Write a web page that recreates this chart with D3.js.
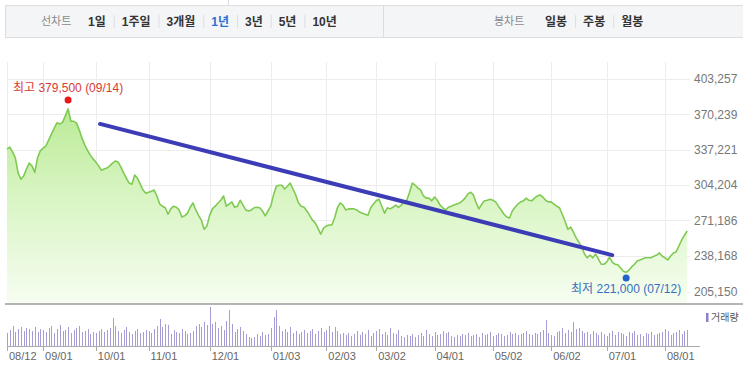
<!DOCTYPE html>
<html>
<head>
<meta charset="utf-8">
<script src="https://cdn.jsdelivr.net/npm/d3@7"></script>
<style>
  body { margin: 0; background: #fff; }
  svg { display: block; font-family: "Liberation Sans", Arial, "Noto Sans CJK KR", sans-serif; }
</style>
</head>
<body>
<svg id="chart"></svg>
<script>
// ---- data (one point per trading day, 2021-08-12 .. 2022-08-11) ----
const tickIdx = [0, 13, 32, 51, 73, 95, 115, 133, 154, 175, 196, 216, 237];
const tickLabels = ["08/12", "09/01", "10/01", "11/01", "12/01", "01/03", "02/03", "03/02", "04/01", "05/02", "06/02", "07/01", "08/01"];
const yTicks = [205150, 238168, 271186, 304204, 337221, 370239, 403257];

const closes = [
  337500, 339500, 335000, 329500, 315500, 309500, 312500, 319000, 324500, 322000,
  316000, 329500, 336000, 338500, 340500, 346000, 351500, 357000, 362000, 361000,
  362500, 368500, 375000, 363500, 363500, 362000, 355500, 348000, 341500, 336500,
  332000, 328500, 325500, 322000, 318000, 319000, 320000, 322000, 324500, 326500,
  325500, 321000, 315500, 310500, 306000, 305000, 313500, 310500, 305000, 299500,
  296500, 297500, 298500, 299500, 294000, 286500, 284500, 283000, 277000, 282000,
  284500, 283500, 281000, 274500, 275500, 278000, 283500, 287500, 281000, 276000,
  271500, 263000, 266000, 276000, 282000, 284500, 287500, 290000, 294000, 284500,
  286500, 288500, 283500, 284500, 290000, 285500, 281000, 280000, 281000, 283000,
  283500, 283000, 280000, 275500, 280000, 284500, 295000, 303000, 304000, 304000,
  300500, 303000, 306000, 300500, 295000, 287500, 284500, 283500, 280000, 276000,
  271500, 269000, 264000, 258500, 264000, 266000, 267000, 267000, 273500, 283000,
  287500, 285500, 281000, 282000, 282000, 282000, 281000, 279000, 278000, 277000,
  276000, 283000, 286500, 289500, 291000, 284500, 278000, 283000, 282000, 283500,
  285500, 283500, 285500, 288500, 290000, 297500, 306000, 304000, 301500, 299500,
  294000, 292000, 292000, 289500, 293000, 290000, 285500, 283000, 281000, 283500,
  284500, 285500, 286500, 287500, 289500, 292000, 296000, 297500, 295000, 287500,
  282000, 286500, 289500, 290000, 291000, 290000, 288500, 284500, 281000, 277000,
  274500, 273500, 280000, 283500, 286500, 288500, 289500, 292000, 290000, 289500,
  292000, 294000, 295000, 293000, 290000, 288500, 288500, 286500, 284500, 283000,
  277000, 270500, 263000, 265000, 260500, 255000, 251000, 246500, 240000, 236500,
  239000, 236500, 240000, 235500, 230500, 230500, 232500, 237000, 232500, 230500,
  230000, 227000, 224000, 223000, 225000, 228000, 230500, 233500, 234500, 235500,
  236500, 236500, 236500, 238000, 239000, 241000, 238000, 236500, 234500, 238000,
  241000, 242000, 247500, 253000, 257500, 261500
];

// volume, in 10k shares
const volumes = [
  13, 16, 20, 14, 17, 19, 15, 18, 17, 15, 19, 14, 17,
  16, 14, 18, 20, 13, 17, 21, 15, 16, 19, 13, 16, 18, 20, 14, 15, 17, 12, 14,
  13, 15, 17, 14, 16, 18, 28, 20, 15, 13, 16, 19, 14, 12, 15, 17, 13, 14, 16,
  15, 13, 17, 20, 27, 19, 22, 21, 12, 16, 14, 13, 17, 15, 12, 13, 15, 20, 22, 19, 24, 21,
  39, 22, 24, 18, 20, 16, 25, 36, 22, 14, 17, 19, 15, 12, 9, 8, 9, 12, 10, 14, 11, 12,
  18, 29, 36, 20, 15, 17, 14, 19, 13, 15, 12, 14, 16, 13, 15, 17, 12, 15, 18, 14, 16, 20, 14, 19, 15, 12, 13, 11,
  13, 10, 12, 15, 11, 14, 12, 16, 10, 13, 15, 17, 12, 14, 11, 18, 13, 12, 16, 10, 9, 11, 10, 12, 9, 11, 13, 10, 16, 12, 10,
  14, 11, 12, 15, 13, 14, 10, 9, 11, 10, 12, 11, 13, 10, 11, 12, 9, 13, 11, 12, 14, 10,
  11, 13, 12, 10, 11, 14, 12, 13, 11, 12, 13, 15, 12, 11, 13, 12, 14, 16, 26, 13,
  11, 10, 14, 15, 18, 13, 16, 14, 24, 17, 18, 15, 13, 14, 12, 15, 13, 11, 14, 12, 10,
  13, 15, 11, 14, 13, 12, 10, 14, 13, 15, 11, 12, 10, 13, 12, 14, 11, 12, 13, 14, 17, 15, 11, 13, 14, 16, 12, 15, 16
];

// high / low markers
const hiIdx = 22, hiVal = 379500, hiLabel = "최고 379,500 (09/14)";
const loIdx = 223, loVal = 221000, loLabel = "최저 221,000 (07/12)";

// hand-drawn trend line (trading-day index, price)
const trendIdx = [33.5, 218];
const trendVal = [361000, 239000];

// tab bar
const lineTabs = ["1일", "1주일", "3개월", "1년", "3년", "5년", "10년"];
const candleTabs = ["일봉", "주봉", "월봉"];
const activeTab = "1년";

// ---- layout ----
const width = 743;
const height = 374;
const plotLeft = 7, plotRight = 690, plotTop = 62, plotBottom = 303;
const volBase = 346, volTop = 306;

const svg = d3.select("#chart")
  .attr("width", width)
  .attr("height", height);

// Scales
const x = d3.scaleLinear().domain([0, 237]).range([plotLeft, 665]);
const y = d3.scaleLinear().domain([205150, 403257]).range([291.5, 78.5]);
const yVol = d3.scaleLinear().domain([0, 40]).range([volBase, volTop]);

// ---- tab bar ----
svg.append("line")
  .attr("x1", 228.5).attr("x2", 228.5).attr("y1", 0).attr("y2", 5)
  .attr("stroke", "#dcdde0");
svg.append("rect")
  .attr("x", 5.5).attr("y", 5.5)
  .attr("width", width).attr("height", 32)
  .attr("fill", "#f4f5f7")
  .attr("stroke", "#dcdde0");
svg.append("line")
  .attr("x1", 383.5).attr("x2", 383.5).attr("y1", 6).attr("y2", 37)
  .attr("stroke", "#dcdde0");

function tabRow(title, titleX, startX, items) {
  svg.append("text")
    .attr("x", titleX).attr("y", 25)
    .attr("font-size", 11)
    .attr("fill", "#8a8a8a")
    .text(title);
  let cx = startX;
  items.forEach((t, i) => {
    if (i > 0) {
      svg.append("line")
        .attr("x1", cx + 8.5).attr("x2", cx + 8.5)
        .attr("y1", 15).attr("y2", 28)
        .attr("stroke", "#dddee2");
      cx += 16;
    }
    const txt = svg.append("text")
      .attr("x", cx).attr("y", 25.5)
      .attr("font-size", 12)
      .attr("font-weight", "bold")
      .attr("fill", t === activeTab ? "#2d6fd2" : "#333")
      .text(t);
    cx += txt.node().getComputedTextLength();
  });
}
tabRow("선차트", 41, 88, lineTabs);
tabRow("봉차트", 494, 545, candleTabs);

// ---- price chart ----
const grid = svg.append("g").attr("class", "grid");
grid.selectAll(".hgrid")
  .data(yTicks)
  .enter()
  .append("line")
  .attr("x1", plotLeft).attr("x2", plotRight)
  .attr("y1", d => Math.round(y(d)) + 0.5)
  .attr("y2", d => Math.round(y(d)) + 0.5)
  .attr("stroke", "#ececec");
grid.selectAll(".vgrid")
  .data(tickIdx)
  .enter()
  .append("line")
  .attr("x1", d => Math.round(x(d)) + 0.5)
  .attr("x2", d => Math.round(x(d)) + 0.5)
  .attr("y1", plotTop).attr("y2", plotBottom)
  .attr("stroke", "#ececec");

// area gradient
const defs = svg.append("defs");
const grad = defs.append("linearGradient")
  .attr("id", "area-grad")
  .attr("gradientUnits", "userSpaceOnUse")
  .attr("x1", 0).attr("x2", 0)
  .attr("y1", 95).attr("y2", plotBottom);
grad.append("stop").attr("offset", "0%").attr("stop-color", "#b6e98f");
grad.append("stop").attr("offset", "50%").attr("stop-color", "#d9f5c4");
grad.append("stop").attr("offset", "100%").attr("stop-color", "#f6fdf1");

const area = d3.area()
  .x((d, i) => x(i))
  .y0(plotBottom)
  .y1(d => y(d));
svg.append("path")
  .datum(closes)
  .attr("d", area)
  .attr("fill", "url(#area-grad)");

const line = d3.line()
  .x((d, i) => x(i))
  .y(d => y(d));
svg.append("path")
  .datum(closes)
  .attr("d", line)
  .attr("fill", "none")
  .attr("stroke", "#7fca52")
  .attr("stroke-width", 1.6)
  .attr("stroke-linejoin", "round");

// trend line
svg.append("line")
  .attr("x1", x(trendIdx[0])).attr("y1", y(trendVal[0]))
  .attr("x2", x(trendIdx[1])).attr("y2", y(trendVal[1]))
  .attr("stroke", "#3c3db6")
  .attr("stroke-width", 4)
  .attr("stroke-linecap", "round");

// high / low markers
svg.append("circle")
  .attr("cx", x(hiIdx)).attr("cy", y(hiVal) - 4)
  .attr("r", 3.5)
  .attr("fill", "#e8191b");
svg.append("text")
  .attr("x", x(hiIdx)).attr("y", y(hiVal) - 12)
  .attr("text-anchor", "middle")
  .attr("font-size", 12)
  .attr("fill", "#d93a32")
  .text(hiLabel);

svg.append("circle")
  .attr("cx", x(loIdx)).attr("cy", y(loVal) + 3.5)
  .attr("r", 3.5)
  .attr("fill", "#1f63c9");
svg.append("text")
  .attr("x", x(loIdx)).attr("y", y(loVal) + 19)
  .attr("text-anchor", "middle")
  .attr("font-size", 12)
  .attr("fill", "#3570c0")
  .text(loLabel);

// y labels
svg.selectAll(".ylab")
  .data(yTicks)
  .enter()
  .append("text")
  .attr("x", 694)
  .attr("y", d => y(d) + 4.5)
  .attr("font-size", 12)
  .attr("fill", "#777")
  .text(d => d3.format(",")(d));

// separator under price chart
svg.append("line")
  .attr("x1", 5).attr("x2", width)
  .attr("y1", plotBottom + 1).attr("y2", plotBottom + 1)
  .attr("stroke", "#b4b4b4")
  .attr("stroke-width", 2);

// ---- volume ----
svg.selectAll(".vol")
  .data(volumes)
  .enter()
  .append("rect")
  .attr("x", (d, i) => Math.round(x(i)))
  .attr("y", d => yVol(d))
  .attr("width", 1)
  .attr("height", d => volBase - yVol(d))
  .attr("fill", "#a69cd6");

svg.append("line")
  .attr("x1", plotLeft).attr("x2", 700)
  .attr("y1", volBase + 0.5).attr("y2", volBase + 0.5)
  .attr("stroke", "#aaa");

svg.selectAll(".vtick")
  .data(tickIdx)
  .enter()
  .append("line")
  .attr("x1", d => Math.round(x(d)) + 0.5)
  .attr("x2", d => Math.round(x(d)) + 0.5)
  .attr("y1", volBase).attr("y2", volBase + 5)
  .attr("stroke", "#aaa");

svg.selectAll(".xlab")
  .data(tickIdx)
  .enter()
  .append("text")
  .attr("x", d => x(d) + 2)
  .attr("y", 360)
  .attr("font-size", 11)
  .attr("fill", "#666")
  .text((d, i) => tickLabels[i]);

// volume legend
svg.append("rect")
  .attr("x", 706).attr("y", 313)
  .attr("width", 2.5).attr("height", 9)
  .attr("fill", "#8c80c9");
svg.append("text")
  .attr("x", 711).attr("y", 321)
  .attr("font-size", 10)
  .attr("fill", "#555")
  .text("거래량");
</script>
</body>
</html>
